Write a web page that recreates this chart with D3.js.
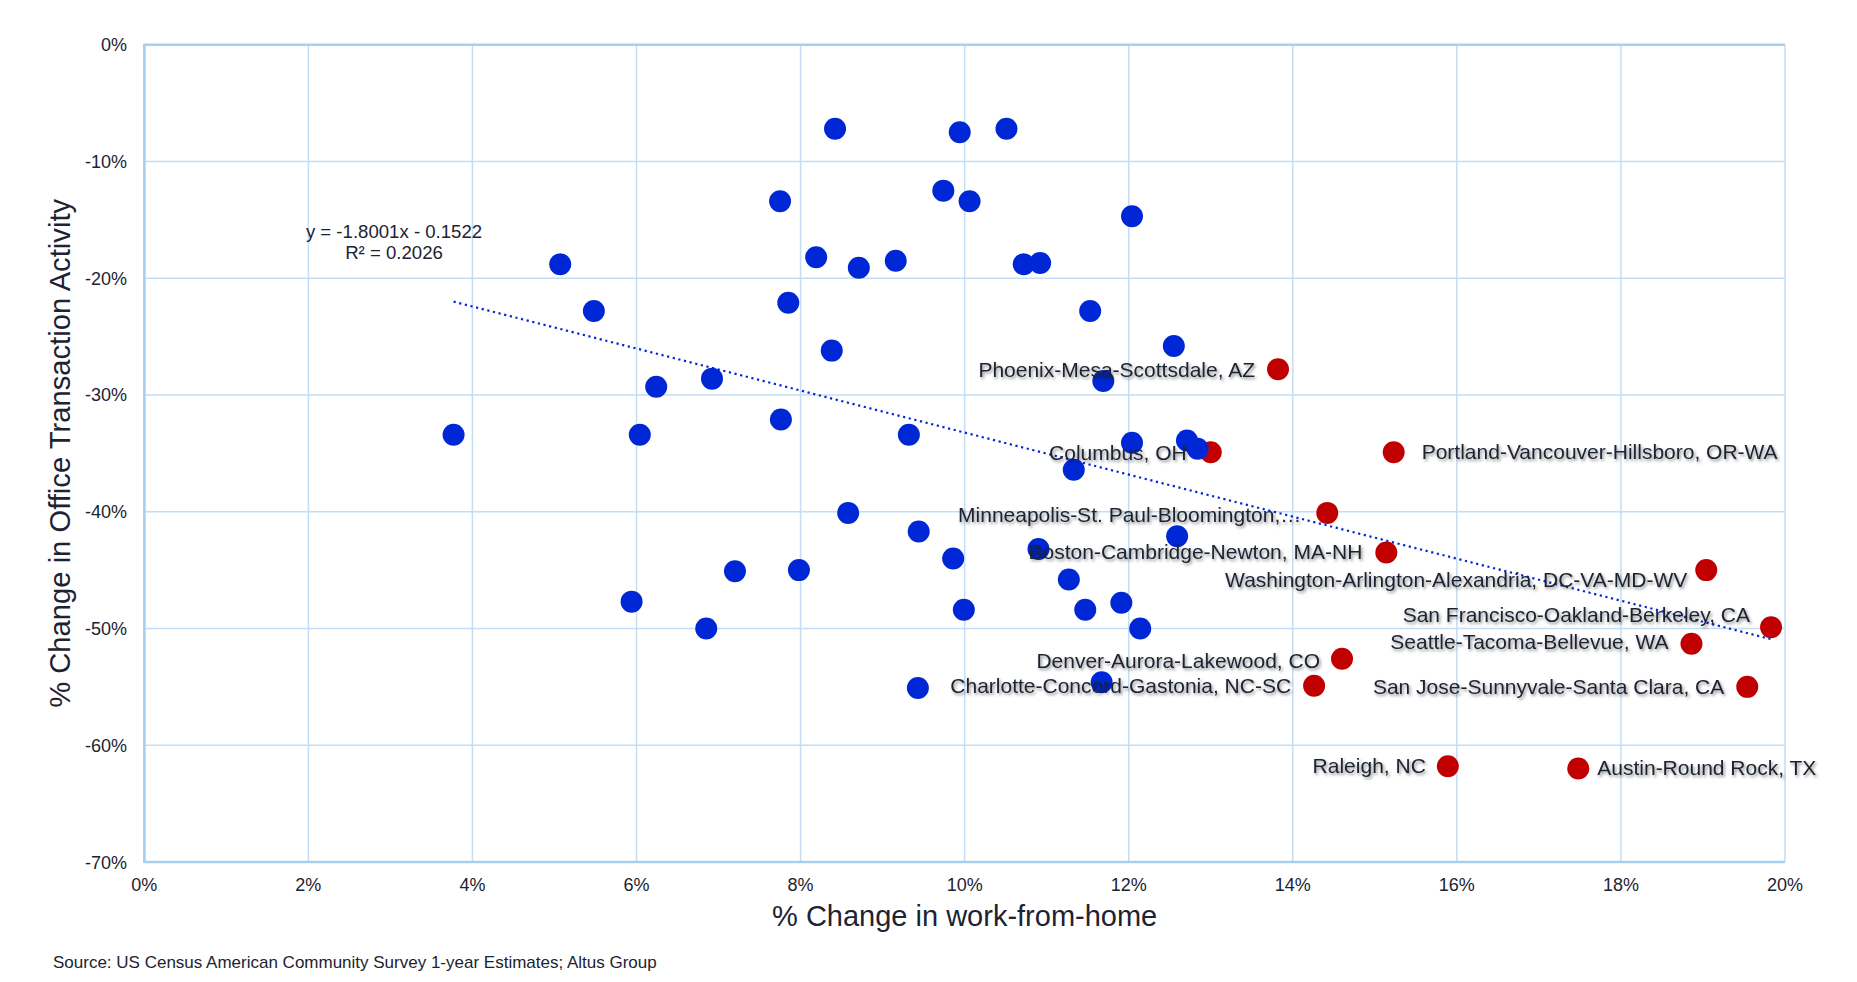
<!DOCTYPE html>
<html>
<head>
<meta charset="utf-8">
<script src="https://cdn.jsdelivr.net/npm/d3@7"></script>
<style>
  body { margin: 0; background: #fff; }
  svg { display: block; font-family: "Liberation Sans", Arial, sans-serif; }
</style>
</head>
<body>
<svg width="1857" height="982"></svg>
<script>
// metros not singled out (blue): % change in WFH vs % change in office transaction activity
const otherWfh = [3.77, 5.07, 5.48, 6.04, 6.24, 5.94, 6.85, 6.92, 7.20, 7.75, 7.76, 7.85, 7.98, 8.19, 8.38,
  8.42, 8.58, 8.71, 9.16, 9.32, 9.44, 9.43, 9.74, 9.86, 9.94, 9.99, 10.06, 10.51, 10.72, 10.92,
  10.90, 11.27, 11.33, 11.47, 11.53, 11.69, 11.67, 11.91, 12.04, 12.04, 12.14, 12.55, 12.59, 12.71, 12.84]
const otherOffice = [-33.4, -18.8, -22.8, -33.4, -29.3, -47.7, -50.0, -28.6, -45.1, -13.4, -32.1, -22.1, -45.0, -18.2, -26.2,
  -7.2, -40.1, -19.1, -18.5, -33.4, -41.7, -55.1, -12.5, -44.0, -7.5, -48.4, -13.4, -7.2, -18.8, -18.7,
  -43.2, -45.8, -36.4, -48.4, -22.8, -28.8, -54.6, -47.8, -14.7, -34.1, -50.0, -25.8, -42.1, -33.9, -34.6]

// labelled metros (red)
const metroNames = ['Phoenix-Mesa-Scottsdale, AZ', 'Columbus, OH', 'Portland-Vancouver-Hillsboro, OR-WA',
  'Minneapolis-St. Paul-Bloomington,…', 'Boston-Cambridge-Newton, MA-NH',
  'Washington-Arlington-Alexandria, DC-VA-MD-WV', 'San Francisco-Oakland-Berkeley, CA',
  'Seattle-Tacoma-Bellevue, WA', 'Denver-Aurora-Lakewood, CO', 'Charlotte-Concord-Gastonia, NC-SC',
  'San Jose-Sunnyvale-Santa Clara, CA', 'Raleigh, NC', 'Austin-Round Rock, TX']
const metroWfh = [13.82, 13.00, 15.23, 14.42, 15.14, 19.04, 19.83, 18.86, 14.60, 14.26, 19.54, 15.89, 17.48]
const metroOffice = [-27.8, -34.9, -34.9, -40.1, -43.5, -45.0, -49.9, -51.3, -52.6, -54.9, -55.0, -61.8, -62.0]

// axis ticks
const xTicks = [0, 2, 4, 6, 8, 10, 12, 14, 16, 18, 20]
const yTicks = [0, -10, -20, -30, -40, -50, -60, -70]

// linear trendline as printed on the chart
const trendSlope = -1.8001
const trendIntercept = -0.1522
const trendText = ['y = -1.8001x - 0.1522', 'R² = 0.2026']

// where each label sits relative to its dot
const labelPlace = {
  'Phoenix-Mesa-Scottsdale, AZ': [-23, 3, 'end'],
  'Columbus, OH': [-24, 3, 'end'],
  'Portland-Vancouver-Hillsboro, OR-WA': [28, 2, 'start'],
  'Minneapolis-St. Paul-Bloomington,…': [-26, 4, 'end'],
  'Boston-Cambridge-Newton, MA-NH': [-24, 2, 'end'],
  'Washington-Arlington-Alexandria, DC-VA-MD-WV': [-19, 12, 'end'],
  'San Francisco-Oakland-Berkeley, CA': [-21, -10, 'end'],
  'Seattle-Tacoma-Bellevue, WA': [-23, 1, 'end'],
  'Denver-Aurora-Lakewood, CO': [-22, 4, 'end'],
  'Charlotte-Concord-Gastonia, NC-SC': [-23, 2, 'end'],
  'San Jose-Sunnyvale-Santa Clara, CA': [-23, 2, 'end'],
  'Raleigh, NC': [-22, 2, 'end'],
  'Austin-Round Rock, TX': [19, 2, 'start']
}

const textColor = '#1c2332'
const blue = '#0027d6'
const red = '#c00000'

const svg = d3.select('svg')

const x = d3.scaleLinear().domain([0, 20]).range([144.3, 1785])
const y = d3.scaleLinear().domain([0, -70]).range([44.7, 862])

// drop shadow for the data labels
const filter = svg.append('defs').append('filter')
  .attr('id', 'shadow').attr('x', '-5%').attr('y', '-30%').attr('width', '110%').attr('height', '160%')
filter.append('feDropShadow')
  .attr('dx', 1.5).attr('dy', 2).attr('stdDeviation', 1.5)
  .attr('flood-color', '#000').attr('flood-opacity', 0.45)

// gridlines
const grid = svg.append('g')
grid.selectAll('.vgrid').data(xTicks).enter().append('line')
  .attr('x1', d => x(d)).attr('x2', d => x(d))
  .attr('y1', y(0)).attr('y2', y(-70))
  .attr('stroke', '#c2ddf4').attr('stroke-width', d => d === 0 ? 2.5 : 1.5)
grid.selectAll('.hgrid').data(yTicks).enter().append('line')
  .attr('x1', x(0)).attr('x2', x(20))
  .attr('y1', d => y(d)).attr('y2', d => y(d))
  .attr('stroke', d => (d === 0 || d === -70) ? '#a9cfef' : '#c2ddf4')
  .attr('stroke-width', d => (d === 0 || d === -70) ? 2.5 : 1.5)
grid.append('line')
  .attr('x1', x(0)).attr('x2', x(0)).attr('y1', y(0) - 1).attr('y2', y(-70) + 1)
  .attr('stroke', '#a9cfef').attr('stroke-width', 2.5)

// tick labels
svg.append('g').selectAll('text').data(xTicks).enter().append('text')
  .attr('x', d => x(d)).attr('y', 891)
  .attr('text-anchor', 'middle')
  .attr('font-size', 18).attr('fill', textColor)
  .text(d => d + '%')
svg.append('g').selectAll('text').data(yTicks).enter().append('text')
  .attr('x', 127).attr('y', d => y(d) + 6.5)
  .attr('text-anchor', 'end')
  .attr('font-size', 18).attr('fill', textColor)
  .text(d => d + '%')

// axis titles
svg.append('text')
  .attr('x', (x(0) + x(20)) / 2).attr('y', 926)
  .attr('text-anchor', 'middle').attr('font-size', 29).attr('fill', textColor)
  .text('% Change in work-from-home')
svg.append('text')
  .attr('transform', `translate(70,${(y(0) + y(-70)) / 2}) rotate(-90)`)
  .attr('text-anchor', 'middle').attr('font-size', 29.2).attr('fill', textColor)
  .text('% Change in Office Transaction Activity')

// source note
svg.append('text')
  .attr('x', 53).attr('y', 968)
  .attr('font-size', 17).attr('fill', textColor)
  .text('Source: US Census American Community Survey 1-year Estimates; Altus Group')

// trendline over the range of all points
const allWfh = otherWfh.concat(metroWfh)
const xMin = d3.min(allWfh)
const xMax = d3.max(allWfh)
svg.append('line')
  .attr('x1', x(xMin)).attr('y1', y((trendSlope * xMin / 100 + trendIntercept) * 100))
  .attr('x2', x(xMax)).attr('y2', y((trendSlope * xMax / 100 + trendIntercept) * 100))
  .attr('stroke', blue).attr('stroke-width', 2.2)
  .attr('stroke-dasharray', '2.2 3.6')

svg.append('g').selectAll('text').data(trendText).enter().append('text')
  .attr('x', 394).attr('y', (d, i) => 238 + i * 21)
  .attr('text-anchor', 'middle').attr('font-size', 18.6).attr('fill', textColor)
  .text(d => d)

// red (labelled) metros
svg.append('g').selectAll('circle').data(metroNames).enter().append('circle')
  .attr('cx', (d, i) => x(metroWfh[i]))
  .attr('cy', (d, i) => y(metroOffice[i]))
  .attr('r', 11).attr('fill', red)

// blue metros
svg.append('g').selectAll('circle').data(otherWfh).enter().append('circle')
  .attr('cx', d => x(d))
  .attr('cy', (d, i) => y(otherOffice[i]))
  .attr('r', 11).attr('fill', blue)

// data labels
svg.append('g').attr('filter', 'url(#shadow)')
  .selectAll('text').data(metroNames).enter().append('text')
  .attr('x', (d, i) => x(metroWfh[i]) + labelPlace[d][0])
  .attr('y', (d, i) => y(metroOffice[i]) + labelPlace[d][1])
  .attr('dy', '0.23em')
  .attr('text-anchor', d => labelPlace[d][2])
  .attr('font-size', 21).attr('fill', textColor)
  .text(d => d)
</script>
</body>
</html>
